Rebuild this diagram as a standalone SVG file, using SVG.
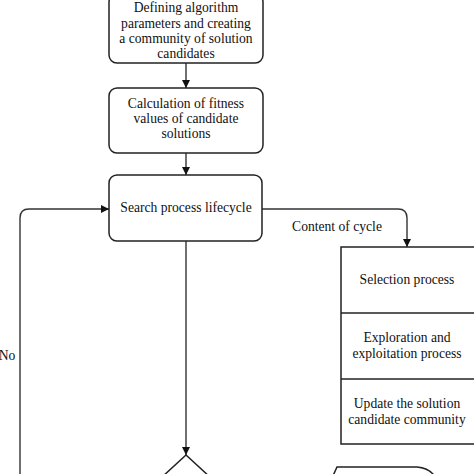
<svg xmlns="http://www.w3.org/2000/svg" width="474" height="474" viewBox="0 0 474 474">
<style>
.box{fill:#fff;stroke:#222;stroke-width:1.5}
.ln{fill:none;stroke:#333;stroke-width:1.4}
text{font-family:"Liberation Serif","Times New Roman",serif;font-size:13.6px;fill:#111;text-anchor:middle}
</style>
<defs>
<marker id="ah" viewBox="0 0 10 10" refX="10" refY="5" markerWidth="8" markerHeight="8" markerUnits="userSpaceOnUse" orient="auto">
<path d="M0,0 L10,5 L0,10 z" fill="#111"/>
</marker>
</defs>
<rect width="474" height="474" fill="#fff"/>
<g id="connectors">
<path class="ln" d="M186,63 V88" marker-end="url(#ah)"/>
<path class="ln" d="M186,153 V175" marker-end="url(#ah)"/>
<path class="ln" d="M20,480 V218 Q20,209 29,209 H109" marker-end="url(#ah)"/>
<path class="ln" d="M262,209 H398 Q407,209 407,218 V247" marker-end="url(#ah)"/>
<path class="ln" d="M186,241 V455" marker-end="url(#ah)"/>
</g>
<g id="node-define">
<rect class="box" x="109" y="-6" width="154" height="69" rx="8"/>
<text x="186" y="12">Defining algorithm</text>
<text x="186" y="28">parameters and creating</text>
<text x="186" y="43">a community of solution</text>
<text x="186" y="58">candidates</text>
</g>
<g id="node-fitness">
<rect class="box" x="109" y="88" width="154" height="65" rx="8"/>
<text x="186" y="108">Calculation of fitness</text>
<text x="186" y="123">values of candidate</text>
<text x="186" y="138">solutions</text>
</g>
<g id="node-search">
<rect class="box" x="109" y="175" width="153" height="66" rx="8"/>
<text x="186" y="212">Search process lifecycle</text>
</g>
<g id="label-content">
<text x="337" y="231">Content of cycle</text>
</g>
<g id="label-no">
<text x="7" y="360">No</text>
</g>
<g id="node-cycle">
<rect class="box" x="341" y="247" width="134" height="197"/>
<line class="box" x1="341" y1="313" x2="475" y2="313"/>
<line class="box" x1="341" y1="379" x2="475" y2="379"/>
<text x="407" y="284">Selection process</text>
<text x="407" y="342">Exploration and</text>
<text x="407" y="358">exploitation process</text>
<text x="407" y="408">Update the solution</text>
<text x="407" y="424">candidate community</text>
</g>
<g id="node-decision">
<path class="box" d="M161,478 L186,455 L211,478"/>
</g>
<g id="node-end">
<path class="box" d="M332,478 L337,467 H417 Q430,468 436,478"/>
</g>
</svg>
